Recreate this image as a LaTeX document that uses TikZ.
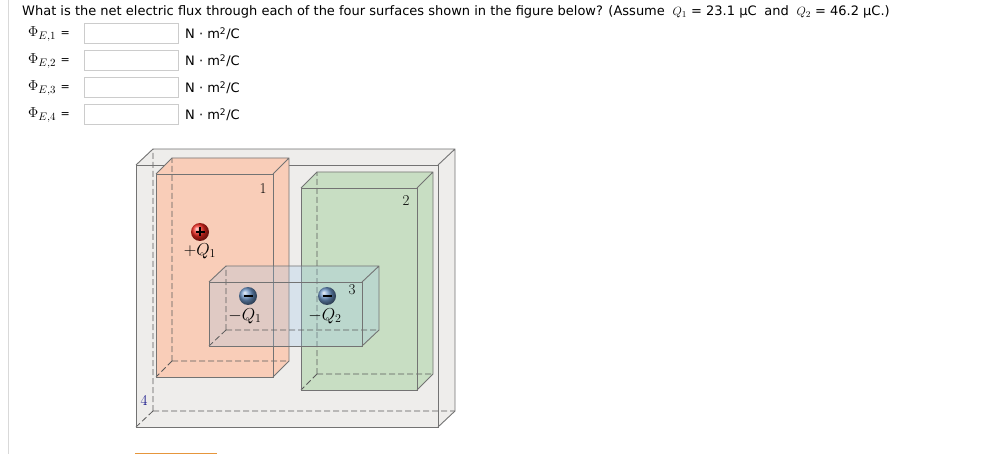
\documentclass[tikz,border=0pt]{standalone}
\usepackage{fontspec}
\setsansfont{DejaVu Sans}
\definecolor{btnorange}{RGB}{230,150,60}
\definecolor{c4}{RGB}{238,237,235}
\definecolor{c1}{RGB}{249,205,184}
\definecolor{c2}{RGB}{200,222,195}
\definecolor{c3}{RGB}{150,195,235}
\definecolor{redball}{RGB}{240,40,30}
\definecolor{blueball}{RGB}{110,150,200}
\begin{document}
\begin{tikzpicture}[x=1pt,y=-1pt,
  edge/.style={draw=black!55,line width=0.9pt},
  hid/.style={draw=black!65,line width=0.8pt,dash pattern=on 6pt off 3pt},
  qtext/.style={font=\sffamily\fontsize{13}{15}\selectfont,inner sep=0pt,anchor=west},
  inbox/.style={draw=black!20,line width=1pt,fill=white,minimum width=94pt,minimum height=20pt,inner sep=0pt},
  num/.style={font=\fontsize{15}{16}\selectfont,inner sep=0pt},
  chlab/.style={font=\fontsize{17}{18}\selectfont,inner sep=0pt},
  ball/.style={circle,inner sep=0pt,minimum size=18pt}]
\useasboundingbox (0,0) rectangle (1006,454);
\draw[black!15,line width=1pt] (8.5,0) -- (8.5,454);
\draw[btnorange,line width=1.2pt] (135,453.4) -- (217,453.4);
\node[qtext] (q) at (22,12) {What is the net electric flux through each of the four surfaces shown in the figure below? (Assume \;$Q_1$ = 23.1 μC \;and \;$Q_2$ = 46.2 μC.)};
\foreach \i/\y in {1/34,2/61,3/88,4/115}{
  \node[anchor=west,inner sep=0pt,font=\fontsize{15}{16}\selectfont] (p\i) at (28,\y) {$\Phi_{E,\i}$\ {\sffamily\fontsize{11}{12}\selectfont =}};
  \node[inbox] (b\i) at (131,\y) {};
  \node[qtext] (u\i) at (185,\y) {N · m\textsuperscript{2}/C};
}
\newcommand{\mybox}[7]{%
  \fill[#7] (#1,#2) -- (#1+#5,#2+#6) -- (#3+#5,#2+#6) -- (#3+#5,#4+#6) -- (#3,#4) -- (#1,#4) -- cycle;
  \draw[hid] (#1+#5,#4+#6) -- (#1+#5,#2+#6) (#1+#5,#4+#6) -- (#3+#5,#4+#6) (#1+#5,#4+#6) -- (#1,#4);
  \draw[edge] (#1,#2) rectangle (#3,#4);
  \draw[edge] (#1,#2) -- (#1+#5,#2+#6) -- (#3+#5,#2+#6) -- (#3+#5,#4+#6) -- (#3,#4) (#3,#2) -- (#3+#5,#2+#6);
}
\mybox{136}{165}{438}{427}{17}{-16}{fill=c4}
\mybox{156}{174}{273}{377}{16}{-16}{fill=c1}
\mybox{301}{188}{417}{390}{16}{-16}{fill=c2}
\mybox{209}{282}{362}{346}{17}{-16}{fill=c3,fill opacity=0.25}
\node[num] (n1) at (263,189) {1};
\node[num] (n2) at (406,201) {2};
\node[num] (n3) at (352,290) {3};
\node[num,text=blue!50!black] (n4) at (144,400) {4};
\node[ball,ball color=redball] (qp) at (200,232) {};
\draw[line width=1.3pt] (qp.center) +(-4.5,0) -- +(4.5,0) (qp.center) +(0,-4.5) -- +(0,4.5);
\node[chlab] (lqp) at (200,251) {$+Q_1$};
\node[ball,ball color=blueball] (qm1) at (248,296) {};
\draw[line width=1.3pt] (qm1.center) +(-4.5,0) -- +(4.5,0);
\node[chlab] (lqm1) at (245,316) {$-Q_1$};
\node[ball,ball color=blueball] (qm2) at (327,296) {};
\draw[line width=1.3pt] (qm2.center) +(-4.5,0) -- +(4.5,0);
\node[chlab] (lqm2) at (325,316) {$-Q_2$};
\end{tikzpicture}
\end{document}
